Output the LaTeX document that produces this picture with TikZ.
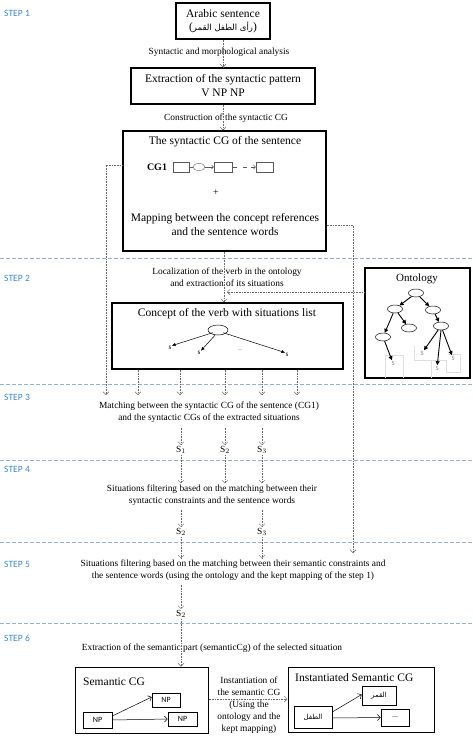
\documentclass[tikz,border=0pt]{standalone}
\usepackage{fontspec}
\setmainfont{Liberation Serif}
\newfontfamily\calib{Carlito}
\newfontfamily\arabicfont[Script=Arabic]{DejaVu Sans}
\TeXXeTstate=1
\usetikzlibrary{arrows.meta,calc,shapes.geometric}
\definecolor{stepblue}{RGB}{65,135,200}
\definecolor{sepcol}{RGB}{150,175,205}
\definecolor{dotcol}{RGB}{105,105,105}
\begin{document}
\begin{tikzpicture}[x=1pt,y=-1pt,
  mainbox/.style={draw=black, line width=1.1pt, inner sep=0pt, fill=none},
  bt/.style={font=\fontsize{11.5}{14}\selectfont, align=center, inner sep=1pt},
  st/.style={font=\fontsize{9.4}{12}\selectfont, align=center, inner sep=1pt},
  steplbl/.style={font=\calib\fontsize{9.6}{11}\selectfont, text=stepblue, anchor=west, inner sep=0pt},
  sepline/.style={draw=sepcol, line width=0.6pt, dash pattern=on 4pt off 2pt},
  dotline/.style={draw=dotcol, line width=0.6pt, dash pattern=on 0.8pt off 0.8pt},
  dotarrow/.style={dotline, -{Straight Barb[length=3pt,width=6pt,line width=0.5pt]}},
  tri/.style={-{Triangle[length=3.5pt,width=3pt]}, line width=0.5pt},
  otri/.style={-{Triangle[length=4pt,width=4pt]}, line width=0.9pt},
  sbox/.style={draw=gray!70!black, line width=0.4pt, minimum height=10pt, inner sep=0pt},
  cgline/.style={draw=gray!70!black, line width=0.4pt},
  npbox/.style={draw, line width=0.6pt, inner sep=0pt, font=\calib\fontsize{8}{10}\selectfont},
  oel/.style={ellipse, draw, line width=0.5pt, minimum width=15pt, minimum height=8pt, inner sep=0pt},
  slbl/.style={font=\calib\fontsize{7}{8}\selectfont, inner sep=0.5pt},
  oslbl/.style={font=\calib\fontsize{6.5}{7}\selectfont, text=gray, inner sep=0.5pt},
  thinarrow/.style={line width=0.5pt, -{Straight Barb[length=3pt,width=6pt,line width=0.5pt]}},
  faint/.style={draw=gray!25, line width=0.4pt}
]
\useasboundingbox (0,0) rectangle (474,737);

% separators
\draw[sepline] (0,258) -- (474,258);
\draw[sepline] (0,384) -- (474,384);
\draw[sepline] (0,460) -- (474,460);
\draw[sepline] (0,542) -- (474,542);
\draw[sepline] (0,623) -- (474,623);

% step labels
\node[steplbl] (st1) at (4,13) {STEP 1};
\node[steplbl] (st2) at (4,278) {STEP 2};
\node[steplbl] (st3) at (4,397) {STEP 3};
\node[steplbl] (st4) at (4,469) {STEP 4};
\node[steplbl] (st5) at (4,564) {STEP 5};
\node[steplbl] (st6) at (4,638) {STEP 6};

% STEP 1
\node[mainbox, bt, minimum width=94pt, minimum height=36pt] (arabic) at (223,21)
  {Arabic sentence\\[-1pt]{\fontsize{11.5}{14}\selectfont(}{\arabicfont\fontsize{8.5}{12}\selectfont\beginR رأى الطفل القمر\endR}{\fontsize{11.5}{14}\selectfont)}};
\node[st] (tsyn) at (219,52) {Syntactic and morphological analysis};
\node[mainbox, bt, minimum width=184pt, minimum height=36pt] (extract) at (223,86)
  {Extraction of the syntactic pattern\\V NP NP};
\node[st] (tcon) at (226,118) {Construction of the syntactic CG};
\node[mainbox, minimum width=203pt, minimum height=120pt] (cg) at (224.5,191) {};
\draw[dotarrow] (arabic.south) -- (extract.north);
\draw[dotarrow] (extract.south) -- (extract.south |- cg.north);

\node[bt] (cgtitle) at (225,142) {The syntactic CG of the sentence};
\node[font=\bfseries\fontsize{10}{12}\selectfont, inner sep=0pt] (cglbl) at (157,167) {CG1};
\node[sbox, minimum width=16pt] (b1) at (181,167) {};
\node[ellipse, draw=gray!70!black, line width=0.4pt, minimum width=12pt, minimum height=7pt, inner sep=0pt] (el) at (199,167) {};
\node[sbox, minimum width=18pt] (b2) at (223,167) {};
\node[sbox, minimum width=17pt] (b3) at (264.5,167) {};
\draw[cgline] (b1.east) -- (el.west);
\draw[cgline, -{Straight Barb[length=2pt,width=4pt,line width=0.4pt]}] (el.east) -- (b2.west);
\draw[cgline] (b2.east) -- ++(5,0);
\draw[cgline] ($(b2.east)+(11,0)$) -- ++(4,0);
\draw[cgline, -{Straight Barb[length=2pt,width=4pt,line width=0.4pt]}] ($(b2.east)+(19,0)$) -- (b3.west);
\node[st, font=\fontsize{10}{12}\selectfont] (plus) at (216,193) {+};
\node[bt] (mapping) at (225,225) {Mapping between the concept references\\and the sentence words};

% side dotted lines
\coordinate (lturn) at (106,165);
\coordinate (lend) at (106,395);
\draw[dotarrow] (lturn -| cg.west) -- (lturn) -- (lend);
\coordinate (rturn) at (353,225);
\coordinate (rend) at (353,553);
\draw[dotarrow] (rturn -| cg.east) -- (rturn) -- (rend);

% STEP 2
\node[st] (tloc) at (227,277.5) {Localization of the verb in the ontology\\and extraction of its situations};
\node[mainbox, minimum width=231pt, minimum height=66pt] (concept) at (227.5,336) {};
\draw[dotarrow] (cg.south -| 224,0) -- (concept.north -| 224,0);
\node[bt] (ctitle) at (227,314) {Concept of the verb with situations list};
\node[ellipse, draw, line width=0.5pt, minimum width=20pt, minimum height=10pt, inner sep=0pt] (vroot) at (218,330) {};
\node[slbl] (vs1) at (170,348) {s};
\node[slbl] (vs2) at (199,353) {s};
\node[slbl, text=gray] (vdots) at (240,350) {\_};
\node[slbl] (vs3) at (287,355) {s};
\draw[tri] ($(vroot.south west)+(2,-1)$) -- (vs1.north east);
\draw[tri] ($(vroot.south)+(-3,0)$) -- (vs2.north east);
\draw[tri] ($(vroot.south east)+(-2,-1)$) -- (vs3.north west);

% ontology
\node[mainbox, minimum width=105pt, minimum height=110pt] (onto) at (417.5,323) {};
\node[bt, font=\fontsize{11}{13}\selectfont] (otitle) at (417,279) {Ontology};
\node[oel] (o0) at (416,293) {};
\node[oel] (o1) at (395,309) {};
\node[oel] (o2) at (433,310) {};
\node[oel] (o3) at (383,337) {};
\node[oel] (o4) at (409,328) {};
\node[oel] (o5) at (441,326) {};
\draw[faint] (385,378) -- (385,355) -- (403,355) -- (403,378);
\draw[faint] (414,346) -- (414,360) -- (431,360) -- (431,378);
\draw[faint] (431,360) -- (446,360) -- (446,372) -- (460,372) -- (460,354) -- (448,354);
\node[oslbl] (os1) at (393,363) {S};
\node[oslbl] (os2) at (422,353) {S};
\node[oslbl] (os3) at (437,368) {S};
\node[oslbl] (os4) at (453,358) {S};
\draw[otri] (o0) -- (o1);
\draw[otri] (o0) -- (o2);
\draw[otri] (o1) -- (o3);
\draw[otri] (o1) -- (o4);
\draw[otri] (o2) -- (o5);
\draw[otri] (o3) -- (os1);
\draw[otri] (o5) -- (os2);
\draw[otri] (o5.south) -- (os3);
\draw[otri] (o5) -- (os4);
\coordinate (ontotip) at (227,292);
\draw[dotarrow] (ontotip -| onto.west) -- (ontotip);

% STEP 3
\foreach \x/\n in {138/a1,180/a2,225/a3,262/a4,297/a5}{
  \coordinate (\n) at (\x,395);
  \draw[dotarrow] (\n |- concept.south) -- (\n);
}
\node[st] (tmatch) at (209,412) {Matching between the syntactic CG of the sentence (CG1)\\and the syntactic CGs of the extracted situations};
\node[st] (s1) at (181,450) {S$_1$};
\node[st] (s2) at (225,450) {S$_2$};
\node[st] (s3) at (262,450) {S$_3$};
\foreach \n in {s1,s2,s3}{
  \draw[dotarrow] ($(\n |- tmatch.south)+(0,4)$) -- (\n.north);
}

% STEP 4
\node[st] (tfilt) at (212,495) {Situations filtering based on the matching between their\\syntactic constraints and the sentence words};
\foreach \n in {s1,s2,s3}{
  \draw[dotarrow] (\n.south) -- (\n |- tfilt.north);
}
\node[st] (s2b) at (181,532) {S$_2$};
\node[st] (s3b) at (262,532) {S$_3$};
\foreach \n in {s2b,s3b}{
  \draw[dotarrow] ($(\n |- tfilt.south)+(0,3)$) -- (\n.north);
}

% STEP 5
\node[st] (tsem) at (233,570) {Situations filtering based on the matching between their semantic constraints and\\the sentence words (using the ontology and the kept mapping of the step 1)};
\foreach \n in {s2b,s3b}{
  \draw[dotarrow] (\n.south) -- (\n |- tsem.north);
}
\node[st] (s2c) at (181,614) {S$_2$};
\draw[dotarrow] ($(s2c |- tsem.south)+(0,3)$) -- (s2c.north);

% STEP 6
\node[st] (textr) at (212,648) {Extraction of the semantic part (semanticCg) of the selected situation};
\node[draw, line width=1pt, inner sep=0pt, minimum width=133pt, minimum height=66pt] (semcg) at (141.5,700) {};
\draw[dotarrow] (s2c.south) -- (s2c |- semcg.north);
\node[bt, anchor=west] (semt) at (82,682) {Semantic CG};
\node[npbox, minimum width=29pt, minimum height=16pt] (np1) at (97.5,720) {NP};
\node[npbox, minimum width=28pt, minimum height=14pt] (np2) at (166,700) {NP};
\node[npbox, minimum width=29pt, minimum height=14pt] (np3) at (182.5,719) {NP};
\draw[thinarrow] ($(np1.east)+(0,-4)$) -- ($(np2.west)+(0,-3)$);
\draw[thinarrow] (np1.east) -- (np3.west);

\node[draw, line width=1pt, inner sep=0pt, minimum width=146pt, minimum height=65pt] (inst) at (361,699.5) {};
\node[bt, anchor=west] (instt) at (294,678) {Instantiated Semantic CG};
\node[npbox, minimum width=34pt, minimum height=19pt] (aq) at (379,695.5) {\arabicfont\fontsize{7}{9}\selectfont\beginR القمر\endR};
\node[npbox, minimum width=38pt, minimum height=22pt] (at) at (313,717) {\arabicfont\fontsize{7}{9}\selectfont\beginR الطفل\endR};
\node[npbox, minimum width=28pt, minimum height=17pt, font=\fontsize{8}{10}\selectfont] (ad) at (395,717.5) {...};
\draw[thinarrow] ($(at.east)+(0,-5)$) -- ($(aq.west)+(0,-1)$);
\draw[thinarrow] ($(at.east)+(0,1)$) -- (ad.west);

\coordinate (iy) at (0,699);
\draw[dotarrow] (iy -| semcg.east) -- (iy -| inst.west);
\node[st] (tinst) at (249,705) {Instantiation of\\the semantic CG\\(Using the\\ontology and the\\kept mapping)};
\end{tikzpicture}
\end{document}
